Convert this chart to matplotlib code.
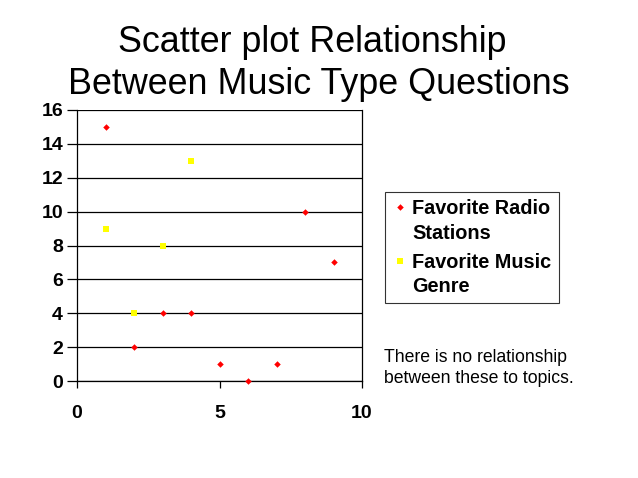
import matplotlib
matplotlib.use("Agg")
import matplotlib.pyplot as plt
from matplotlib.legend_handler import HandlerPathCollection

# Favorite Radio Stations (red diamonds)
radio_x = [1, 2, 3, 4, 5, 6, 7, 8, 9]
radio_y = [15, 2, 4, 4, 1, 0, 1, 10, 7]
# Favorite Music Genre (yellow squares)
genre_x = [1, 2, 3, 4]
genre_y = [9, 4, 8, 13]

x_ticks = [0, 5, 10]
y_ticks = [0, 2, 4, 6, 8, 10, 12, 14, 16]

plt.rcParams["font.family"] = ["Liberation Sans", "DejaVu Sans"]

fig = plt.figure(figsize=(6.38, 4.78), dpi=100)
ax = fig.add_axes([77 / 638, 1 - 381 / 478, 285 / 638, 271 / 478])

sc_radio = ax.scatter(radio_x, radio_y, marker="D", s=11, color="#ff0000", lw=0,
                      label="Favorite Radio\nStations", zorder=3, clip_on=False)
sc_genre = ax.scatter(genre_x, genre_y, marker="s", s=16, color="#ffff00", lw=0,
                      label="Favorite Music\nGenre", zorder=3, clip_on=False)

ax.set_xlim(0, 10)
ax.set_ylim(0, 16)
ax.set_xticks(x_ticks)
ax.set_yticks(y_ticks)
for yv in y_ticks:
    ax.axhline(yv, color="black", lw=0.9, zorder=1)
ax.spines["top"].set_visible(False)
for s in ["left", "right", "bottom"]:
    ax.spines[s].set_linewidth(0.9)
ax.tick_params(axis="y", length=7, width=0.9, pad=3, labelsize=14)
ax.tick_params(axis="x", length=5, width=0.9, pad=12, labelsize=14)
for lab in ax.get_xticklabels() + ax.get_yticklabels():
    lab.set_fontweight("bold")

fig.text(0.49, 1 - 52 / 478, "Scatter plot Relationship", ha="center", va="baseline", fontsize=25.8)
fig.text(0.499, 1 - 94 / 478, "Between Music Type Questions", ha="center", va="baseline", fontsize=25.8)

# markers sit beside the first line of each two-line label
hmap = {sc_radio: HandlerPathCollection(yoffsets=[1.5]),
        sc_genre: HandlerPathCollection(yoffsets=[1.5])}
leg = ax.legend(loc="upper left", bbox_to_anchor=(385 / 638, 1 - 192 / 478),
                bbox_transform=fig.transFigure, frameon=True, fancybox=False,
                prop={"weight": "bold", "size": 14.3}, handletextpad=0.22,
                handlelength=0.8, borderpad=0.36, labelspacing=0.52, markerscale=1.0,
                borderaxespad=0, handler_map=hmap)
leg.get_frame().set_edgecolor("black")
leg.get_frame().set_linewidth(0.8)
for t in leg.get_texts():
    t.set_linespacing(1.36)

fig.text(384 / 638, 1 - 368 / 478, "There is no relationship\nbetween these to topics.",
         ha="left", va="center", fontsize=12.7, linespacing=1.25)

fig.savefig("out.png", dpi=100)
